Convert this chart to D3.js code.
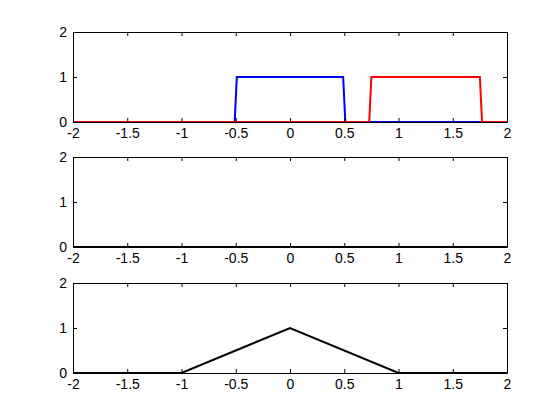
<!DOCTYPE html>
<html>
<head>
<meta charset="utf-8">
<script src="https://cdn.jsdelivr.net/npm/d3@7"></script>
<style>
  body { margin: 0; background: #fff; }
</style>
</head>
<body>
<div id="graph"></div>
<script>
// tick labels
var xTicks = [-2, -1.5, -1, -0.5, 0, 0.5, 1, 1.5, 2];
var yTicks = [0, 1, 2];

// subplot 1: two rectangular pulses
var blueX = [-2, -0.51, -0.49, 0.49, 0.51, 2];
var blueY = [0, 0, 1, 1, 0, 0];
var redX = [-2, 0.73, 0.75, 1.75, 1.77, 2];
var redY = [0, 0, 1, 1, 0, 0];
// subplot 2: zero signal
var zeroX = [-2, 2];
var zeroY = [0, 0];
// subplot 3: triangle
var triX = [-2, -1, 0, 1, 2];
var triY = [0, 0, 1, 0, 0];

var W = 560, H = 420;
var svg = d3.select("#graph").append("svg")
  .attr("width", W).attr("height", H);

var left = 73, right = 507;
var panels = [
  {top: 32, bottom: 122, series: [{x: blueX, y: blueY, c: "#0000ff"}, {x: redX, y: redY, c: "#ff0000"}]},
  {top: 157, bottom: 247, series: [{x: zeroX, y: zeroY, c: "#000"}]},
  {top: 283, bottom: 373, series: [{x: triX, y: triY, c: "#000"}]}
];

var x = d3.scaleLinear().domain([-2, 2]).range([left, right]);

panels.forEach(function(p) {
  var y = d3.scaleLinear().domain([0, 2]).range([p.bottom, p.top]);
  var g = svg.append("g");

  var line = d3.line()
    .x(function(d) { return x(d[0]); })
    .y(function(d) { return y(d[1]); });

  p.series.forEach(function(s) {
    g.append("path")
      .attr("d", line(d3.zip(s.x, s.y)))
      .attr("fill", "none")
      .attr("stroke", s.c)
      .attr("stroke-width", 2);
  });

  // axes, MATLAB style: ticks inside, box on
  g.append("g").attr("transform", "translate(0," + p.bottom + ")")
    .call(d3.axisBottom(x).tickValues(xTicks).tickSizeInner(-4).tickSizeOuter(0).tickPadding(6)
      .tickFormat(function(d) { return d; }));
  g.append("g").attr("transform", "translate(0," + p.top + ")")
    .call(d3.axisTop(x).tickValues(xTicks).tickSizeInner(-4).tickSizeOuter(0).tickFormat(""));
  g.append("g").attr("transform", "translate(" + left + ",0)")
    .call(d3.axisLeft(y).tickValues(yTicks).tickSizeInner(-4).tickSizeOuter(0).tickPadding(6)
      .tickFormat(function(d) { return d; }));
  g.append("g").attr("transform", "translate(" + right + ",0)")
    .call(d3.axisRight(y).tickValues(yTicks).tickSizeInner(-4).tickSizeOuter(0).tickFormat(""));

  g.selectAll(".domain").attr("stroke", "#000");
  g.selectAll(".tick line").attr("stroke", "#000");
  g.selectAll(".tick text")
    .attr("fill", "#000")
    .attr("font-family", "Liberation Sans, Arial, sans-serif")
    .attr("font-size", 14);
});
</script>
</body>
</html>
